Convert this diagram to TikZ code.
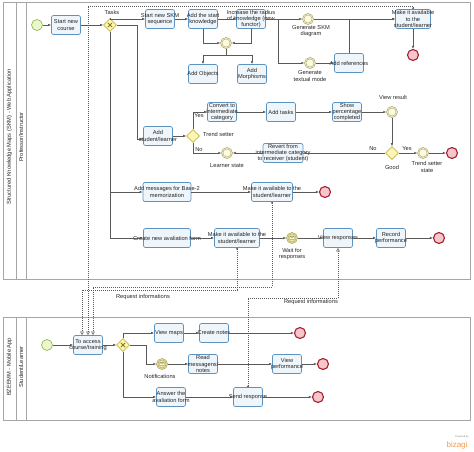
\documentclass[tikz,border=0pt]{standalone}
\usepackage{fontspec}
\setmainfont{Liberation Sans}
\usetikzlibrary{arrows.meta,shapes.geometric}

\definecolor{poolline}{HTML}{A6A6A6}
\definecolor{taskline}{HTML}{5E93BF}
\definecolor{taskfill}{HTML}{EEF5FB}
\definecolor{startline}{HTML}{8FB339}
\definecolor{startfill}{HTML}{EAF6CF}
\definecolor{endline}{HTML}{A3202C}
\definecolor{endfill}{HTML}{F7C6CD}
\definecolor{midline}{HTML}{A39B55}
\definecolor{midfill}{HTML}{FCFAE3}
\definecolor{waitfill}{HTML}{ECE6A6}
\definecolor{gateline}{HTML}{C9B645}
\definecolor{gatefill}{HTML}{FCF7B5}
\definecolor{xmark}{HTML}{8A7A1A}
\definecolor{flowline}{HTML}{595959}
\definecolor{bizorange}{HTML}{F39A4B}

% zero width line, so the text may run past the box
\newcommand{\wide}[1]{\makebox[0pt]{#1}}

\tikzset{
  txt/.style={font=\fontsize{5.7}{6.3}\selectfont, text=black!85, align=center, inner sep=0pt},
  task/.style={txt, rectangle, rounded corners=2pt, draw=taskline, fill=taskfill, line width=0.7pt, minimum width=29pt, minimum height=19pt},
  startev/.style={circle, draw=startline, fill=startfill, line width=0.6pt, minimum size=11pt, inner sep=0pt},
  endev/.style={circle, draw=endline, fill=endfill, line width=1.1pt, minimum size=11pt, inner sep=0pt},
  midev/.style={circle, draw=midline, fill=midfill, line width=0.5pt, minimum size=11pt, inner sep=0pt,
    path picture={\draw[midline, line width=0.4pt] (path picture bounding box.center) circle (4.1pt);}},
  waitev/.style={circle, draw=midline, fill=waitfill, line width=0.5pt, minimum size=11pt, inner sep=0pt,
    path picture={
      \draw[midline, line width=0.4pt] (path picture bounding box.center) circle (4.1pt);
      \draw[midline, line width=0.35pt, fill=midfill]
        ([shift={(-2.3pt,-1.6pt)}]path picture bounding box.center) rectangle ([shift={(2.3pt,1.6pt)}]path picture bounding box.center)
        ([shift={(-2.3pt,1.6pt)}]path picture bounding box.center) -- (path picture bounding box.center) -- ([shift={(2.3pt,1.6pt)}]path picture bounding box.center);}},
  gate/.style={diamond, draw=gateline, fill=gatefill, line width=0.6pt, minimum width=13pt, minimum height=13pt, inner sep=0pt},
  xgate/.style={gate, path picture={
      \draw[xmark, line width=0.8pt]
        ([shift={(-2.2pt,-2.2pt)}]path picture bounding box.center) -- ([shift={(2.2pt,2.2pt)}]path picture bounding box.center)
        ([shift={(-2.2pt,2.2pt)}]path picture bounding box.center) -- ([shift={(2.2pt,-2.2pt)}]path picture bounding box.center);}},
  pool/.style={draw=poolline, line width=0.8pt},
  flow/.style={draw=flowline, line width=0.5pt, -{Latex[length=3pt,width=2.4pt]}},
  msg/.style={draw=flowline, line width=0.5pt, dash pattern=on 1pt off 1pt,
    {Circle[open,length=1.8pt,width=1.8pt]}-{Triangle[open,length=3.5pt,width=3.5pt]}}
}

\begin{document}
\begin{tikzpicture}[x=1pt, y=-1pt]
\useasboundingbox (0,0) rectangle (474,452);

% Pools and lanes
\draw[pool] (3,2) rectangle (470,279);
\draw[pool] (16,2) -- (16,279);
\draw[pool] (26,2) -- (26,279);
\draw[pool] (3,317) rectangle (470,420);
\draw[pool] (16,317) -- (16,420);
\draw[pool] (26,317) -- (26,420);
\node[txt, rotate=90] (pool_web) at (9.5,137) {Structured Knowledge Maps (SKM) - Web Application};
\node[txt, rotate=90] (lane_prof) at (21,137) {Professor/Instructor};
\node[txt, rotate=90] (pool_app) at (9.5,367) {BZEEMM - Mobile App};
\node[txt, rotate=90] (lane_stu) at (21,367) {Student/Learner};

% Web application: sequence of the map
\node[startev] (s_web) at (37,25) {};
\node[task] (t_course) at (66,25) {Start new\\course};
\node[xgate] (g_tasks) at (110,25) {};
\node[txt] (l_tasks) at (112,12) {Tasks};
\node[task] (t_skm) at (160,19) {\wide{Start new SKM}\\sequence};
\node[task] (t_start) at (203,19) {\wide{Add the start}\\knowledge};
\node[task] (t_radius) at (251,19) {\wide{Increase the radius}\\\wide{of knowledge (new}\\functor)};
\node[midev] (e_diag) at (308,19) {};
\node[txt] (l_diag) at (311,31) {Generate SKM\\diagram};
\node[midev] (e_text) at (310,63) {};
\node[txt] (l_text) at (310,76) {Generate\\textual mode};
\node[midev] (e_join) at (226,43) {};
\node[task] (t_obj) at (203,74) {\wide{Add Objects}};
\node[task] (t_morph) at (252,74) {Add\\Morphisms};
\node[task] (t_ref) at (349,63) {\wide{Add references}};
\node[task, minimum width=35pt] (t_avail1) at (413,19) {\wide{Make it available}\\to the\\\wide{student/learner}};
\node[endev] (e_end1) at (413,55) {};

% Web application: learners
\node[task] (t_addstu) at (158,136) {Add\\\wide{student/learner}};
\node[gate] (g_trend) at (193,136) {};
\node[txt, anchor=west] (l_trend) at (203,134) {Trend setter};
\node[txt] (l_yes1) at (199,116) {Yes};
\node[txt] (l_no1) at (199,150) {No};
\node[task] (t_conv) at (222,112) {Convert to\\\wide{intermediate}\\category};
\node[task] (t_tasks) at (281,112) {Add tasks};
\node[task] (t_pct) at (347,112) {Show\\\wide{percentage}\\completed};
\node[midev] (e_view) at (392,112) {};
\node[txt] (l_view) at (393,97) {View result};
\node[gate] (g_good) at (392,153) {};
\node[txt] (l_good) at (392,167) {Good};
\node[txt] (l_no2) at (373,149) {No};
\node[txt] (l_yes2) at (407,149) {Yes};
\node[midev] (e_trend) at (423,153) {};
\node[txt] (l_trendst) at (427,167) {Trend setter\\state};
\node[endev] (e_end2) at (452,153) {};
\node[midev] (e_learn) at (227,153) {};
\node[txt] (l_learn) at (227,166) {Learner state};
\node[task, minimum width=40pt] (t_revert) at (283,153) {Revert from\\\wide{intermediate category}\\\wide{to receiver (student)}};

% Web application: messages and evaluation
\node[task, minimum width=48pt] (t_msg) at (167,192) {\wide{Add messages for Base-2}\\memorization};
\node[task, minimum width=41pt] (t_avail2) at (272,192) {\wide{Make it available to the}\\student/learner};
\node[endev] (e_end3) at (325,192) {};
\node[task, minimum width=47pt] (t_form) at (167,238) {\wide{Create new avaliation form}};
\node[task, minimum width=45pt] (t_avail3) at (237,238) {\wide{Make it available to the}\\student/learner};
\node[waitev] (e_wait) at (292,238) {};
\node[txt] (l_wait) at (292,254) {Wait for\\responses};
\node[task] (t_resp) at (338,238) {\wide{View responses}};
\node[task] (t_rec) at (391,238) {Record\\\wide{performance}};
\node[endev] (e_end4) at (439,238) {};

% Mobile app
\node[startev] (s_app) at (47,345) {};
\node[task] (t_access) at (88,345) {To access\\\wide{course/training}};
\node[xgate] (g_app) at (123,345) {};
\node[task] (t_maps) at (169,333) {View maps};
\node[task] (t_notes) at (214,333) {\wide{Create notes}};
\node[endev] (e_end5) at (300,333) {};
\node[waitev] (e_notif) at (162,364) {};
\node[txt] (l_notif) at (160,376) {Notifications};
\node[task] (t_read) at (203,364) {Read\\\wide{messagens/}\\notes};
\node[task] (t_perf) at (287,364) {View\\\wide{performance}};
\node[endev] (e_end6) at (323,364) {};
\node[task] (t_answer) at (171,397) {\wide{Answer the}\\\wide{avaliation form}};
\node[task] (t_send) at (248,397) {\wide{Send response}};
\node[endev] (e_end7) at (318,397) {};

% Sequence flows
\draw[flow] (s_web) -- (t_course);
\draw[flow] (t_course) -- (g_tasks);
\draw[flow] (g_tasks.north) |- (t_skm);
\draw[flow] (g_tasks.east) -- ++(20,0) |- ([yshift=-3pt]t_addstu.west);
\draw[flow] (g_tasks.south) |- (t_msg);
\draw[flow] (g_tasks.south) |- (t_form);
\draw[flow] (t_skm) -- (t_start);
\draw[flow] (t_start) -- (t_radius);
\draw[flow] (t_radius) -- (e_diag);
\draw[flow] (t_radius.east) -- ++(12,0) |- (e_text);
\draw[flow] (t_start.south) |- (e_join);
\draw[flow] (t_radius.south) |- (e_join);
\draw[flow] (e_join.south) -- ++(0,7) -| (t_obj.north);
\draw[flow] (e_join.south) -- ++(0,7) -| (t_morph.north);
\draw[flow] (e_diag) -- (t_avail1);
\draw[flow] (e_text) -- (t_ref);
\draw[flow] (t_ref.north) |- (t_avail1.west);
\draw[flow] (t_avail1) -- (e_end1);

\draw[flow] (t_addstu) -- (g_trend);
\draw[flow] (g_trend.north) |- (t_conv);
\draw[flow] (g_trend.south) |- (e_learn);
\draw[flow] (t_conv) -- (t_tasks);
\draw[flow] (t_tasks) -- (t_pct);
\draw[flow] (t_pct) -- (e_view);
\draw[flow] (e_view) -- (g_good);
\draw[flow] (g_good) -- (t_revert);
\draw[flow] (t_revert) -- (e_learn);
\draw[flow] (g_good) -- (e_trend);
\draw[flow] (e_trend) -- (e_end2);

\draw[flow] (t_msg) -- (t_avail2);
\draw[flow] (t_avail2) -- (e_end3);
\draw[flow] (t_form) -- (t_avail3);
\draw[flow] (t_avail3) -- (e_wait);
\draw[flow] (e_wait) -- (t_resp);
\draw[flow] (t_resp) -- (t_rec);
\draw[flow] (t_rec) -- (e_end4);

\draw[flow] (s_app) -- (t_access);
\draw[flow] (t_access) -- (g_app);
\draw[flow] (g_app.north) |- (t_maps);
\draw[flow] (t_maps) -- (t_notes);
\draw[flow] (t_notes) -- (e_end5);
\draw[flow] (g_app.east) -- ++(16,0) |- (e_notif);
\draw[flow] (e_notif) -- (t_read);
\draw[flow] (t_read) -- (t_perf);
\draw[flow] (t_perf) -- (e_end6);
\draw[flow] (g_app.south) |- (t_answer);
\draw[flow] (t_answer) -- (t_send);
\draw[flow] (t_send) -- (e_end7);

% Message flows
\coordinate (m_top) at (0,6);
\coordinate (m_mid) at (0,287);
\coordinate (m_low) at (0,290);
\coordinate (m_app) at (0,298);
\draw[msg] (t_avail1.north) -- (t_avail1.north |- m_top) -| (t_access.north);
\draw[msg] (t_avail2.south) -- (t_avail2.south |- m_mid) -| ([xshift=5pt]t_access.north);
\draw[msg] (t_avail3.south) -- (t_avail3.south |- m_low) -| ([xshift=-6pt]t_access.north);
\draw[msg] (t_send.north) -- (t_send.north |- m_app) -| (t_resp.south);
\node[txt] (l_req1) at (143,297) {Request informations};
\node[txt] (l_req2) at (311,302) {Request informations};

% Logo
\node[txt, text=gray, font=\fontsize{2.5}{3}\selectfont] (l_powered) at (462,437) {Powered by};
\node[inner sep=0pt, text=bizorange, font=\fontsize{8}{8}\selectfont] (l_bizagi) at (457,445) {bizagi};
\end{tikzpicture}
\end{document}
